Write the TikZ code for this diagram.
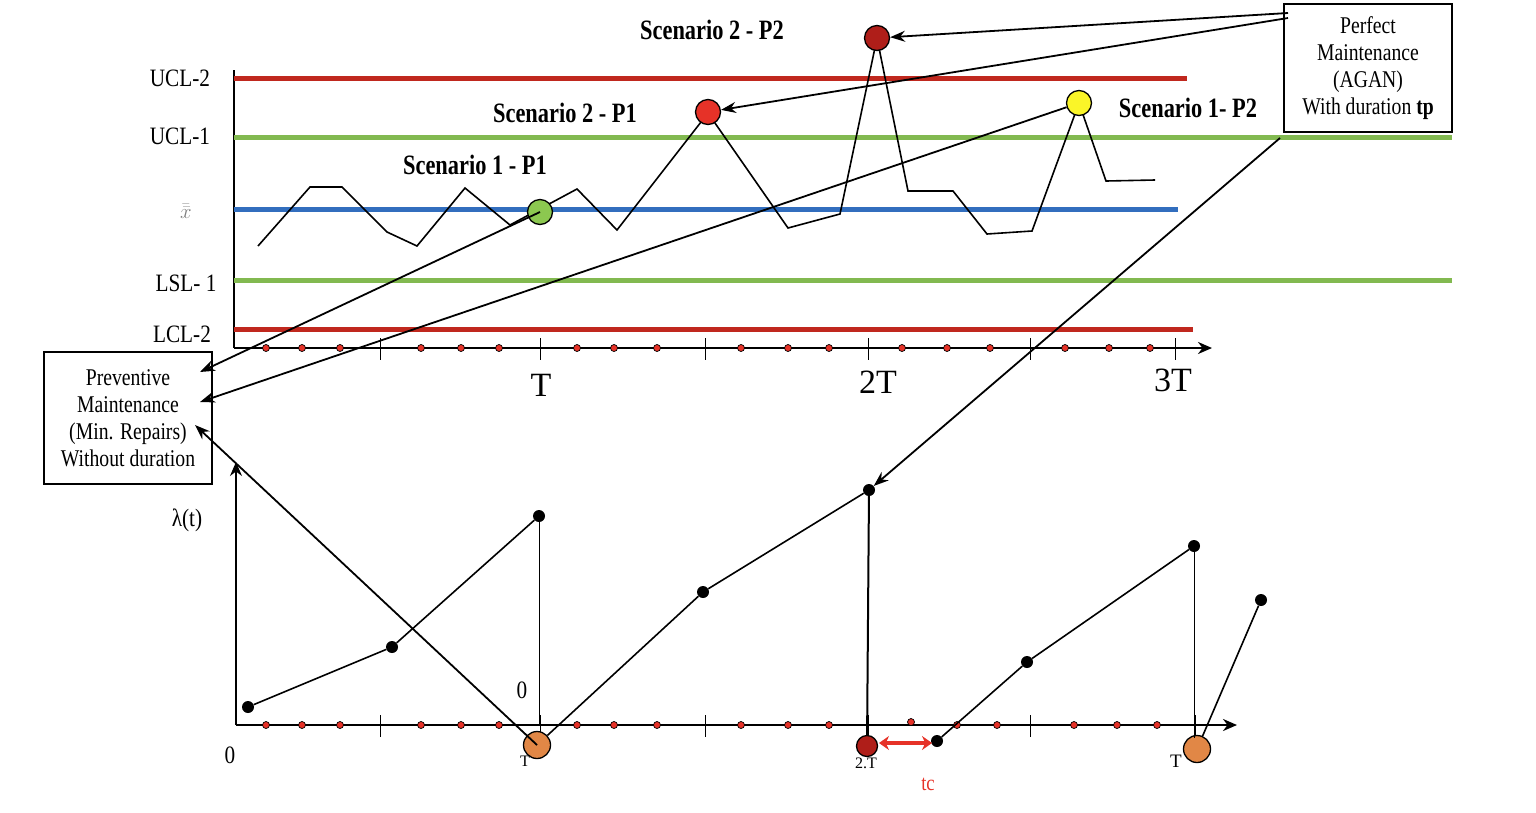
\documentclass[tikz,border=0pt]{standalone}
\usepackage{fontspec}
\setmainfont{Liberation Serif}
\usetikzlibrary{arrows.meta}
\definecolor{cred}{RGB}{192,40,30}
\definecolor{cgreen}{RGB}{130,185,80}
\definecolor{cblue}{RGB}{50,110,190}
\definecolor{cdred}{RGB}{175,30,25}
\definecolor{cbred}{RGB}{230,50,40}
\definecolor{cyel}{RGB}{250,245,40}
\definecolor{cgr}{RGB}{140,200,80}
\definecolor{cor}{RGB}{225,135,70}
\begin{document}
\begin{tikzpicture}[x=1pt,y=-1pt,
  lim/.style={line width=5pt},
  lab/.style={font=\fontsize{25}{27}\selectfont\addfontfeature{FakeStretch=0.85}},
  scen/.style={font=\fontsize{28}{30}\selectfont\bfseries\addfontfeature{FakeStretch=0.8}},
  box/.style={draw,line width=1.3pt,align=center,font=\fontsize{24}{27}\selectfont\addfontfeature{FakeStretch=0.82}},
  arr/.style={line width=1.8pt,-{Stealth[length=15pt,width=11pt]}},
  pt/.style={circle,draw,line width=1.3pt,minimum width=22pt,minimum height=25pt,inner sep=0pt},
  bd/.style={circle,fill=black,minimum size=12pt,inner sep=0pt},
  rd/.style={circle,fill=cbred,draw=black,line width=0.7pt,minimum size=7pt,inner sep=0pt},
  tk/.style={line width=1pt}]
\useasboundingbox (0,0) rectangle (1536,812);
% top chart
\draw[line width=1.3pt] (234,70) -- (234,348);
\draw[lim,cred] (234,78) -- (1187,78);
\draw[lim,cgreen] (234,137) -- (1452,137);
\draw[lim,cblue] (234,209) -- (1178,209);
\draw[lim,cgreen] (234,280) -- (1452,280);
\draw[lim,cred] (234,329) -- (1193,329);
\draw[line width=2.5pt,-{Stealth[length=14pt,width=12pt]}] (234,348) -- (1212,348);
\foreach \x in {380,540,705,868,1030,1175} \draw[tk] (\x,338) -- (\x,360);
\foreach \x in {266,302,340,421,461,499,577,614,657,741,788,829,902,947,990,1065,1109,1150} \node[rd] at (\x,348) {};
\node[lab] at (180,78) {UCL-2};
\node[lab] at (180,136) {UCL-1};
\node[font=\fontsize{20}{20}\selectfont,text=gray] at (186,211) {$\bar{\bar{x}}$};
\node[lab] at (186,283) {LSL- 1};
\node[lab] at (182,334) {LCL-2};
\node[font=\fontsize{34}{34}\selectfont] at (541,385) {T};
\node[font=\fontsize{34}{34}\selectfont] at (878,382) {2T};
\node[font=\fontsize{34}{34}\selectfont] at (1173,380) {3T};
\draw[line width=1.6pt] (258,246) -- (310,187) -- (342,187) -- (387,232) -- (417,246) -- (465,188) -- (510,225) -- (577,189) -- (617,230) -- (708,113) -- (788,228) -- (840,214) -- (877,38) -- (908,191) -- (953,191) -- (987,234) -- (1032,231) -- (1079,103) -- (1106,181) -- (1155,180);
\node[pt,fill=cgr] (g) at (540,212) {};
\node[pt,fill=cbred] (r) at (708,112) {};
\node[pt,fill=cdred] (d) at (877,38) {};
\node[pt,fill=cyel] (y) at (1079,103) {};
\node[scen] at (712,30) {Scenario 2 - P2};
\node[scen] at (565,113) {Scenario 2 - P1};
\node[scen] at (475,165) {Scenario 1 - P1};
\node[scen] at (1188,108) {Scenario 1- P2};
\node[box,minimum width=168pt,minimum height=128pt] (pm) at (1368,68) {Perfect\\Maintenance\\(AGAN)\\With duration \textbf{tp}};
\node[box,minimum width=168pt,minimum height=132pt] (pv) at (128,418) {Preventive\\Maintenance\\(Min. Repairs)\\Without duration};
% bottom chart
\draw[line width=1.3pt,-{Stealth[length=14pt,width=12pt]}] (236,725) -- (236,462);
\draw[line width=2.5pt,-{Stealth[length=14pt,width=12pt]}] (236,725) -- (1237,725);
\foreach \x in {380,540,705,868,1030,1195} \draw[tk] (\x,715) -- (\x,737);
\foreach \x in {266,302,340,421,461,499,577,614,657,741,788,829,957,997,1074,1117,1157} \node[rd] at (\x,725) {};
\node[rd] at (911,722) {};
\node[lab] at (187,520) {λ(t)};
\node[lab] at (230,755) {0};
\node[lab] at (522,690) {0};
\node[font=\fontsize{16}{16}\selectfont] at (525,761) {T};
\node[font=\fontsize{16}{16}\selectfont] at (866,763) {2.T};
\node[font=\fontsize{19}{19}\selectfont] at (1176,761) {T};
\node[font=\fontsize{22}{22}\selectfont\addfontfeature{FakeStretch=0.85},text=cbred] at (928,784) {tc};
\node[bd] (b1) at (248,707) {};
\node[bd] (b2) at (392,647) {};
\node[bd] (b3) at (539,516) {};
\node[bd] (b4) at (703,592) {};
\node[bd] (b5) at (869,490) {};
\node[bd] (b6) at (937,741) {};
\node[bd] (b7) at (1027,662) {};
\node[bd] (b8) at (1194,546) {};
\node[bd] (b9) at (1261,600) {};
\node[pt,fill=cor,minimum width=22pt,minimum height=27pt] (o1) at (537,745) {};
\node[pt,fill=cor,minimum width=22pt,minimum height=27pt] (o2) at (1197,749) {};
\node[pt,fill=cdred,minimum width=18pt,minimum height=21pt] (o3) at (867,746) {};
\draw[line width=1.6pt] (b1) -- (b2) -- (b3);
\draw[line width=0.9pt] (b3) -- (539,725);
\draw[line width=1.6pt] (o1) -- (b4) -- (b5);
\draw[line width=2pt] (b5) -- (o3);
\draw[line width=1.6pt] (b6) -- (b7) -- (b8);
\draw[line width=0.9pt] (b8) -- (1194,738);
\draw[line width=1.6pt] (o2) -- (b9);
\draw[cbred,line width=4pt,{Stealth[length=10pt,width=14pt]}-{Stealth[length=10pt,width=14pt]}] (879,743) -- (932,743);
% arrows
\draw[arr] (1288,13) -- (d);
\draw[arr] (1288,18) -- (r);
\draw[arr] (1280,138) -- (b5);
\draw[arr] (g.center) -- (200,372);
\draw[arr] (y) -- (200,402);
\draw[arr] (o1.center) -- (195,425);
\end{tikzpicture}
\end{document}
